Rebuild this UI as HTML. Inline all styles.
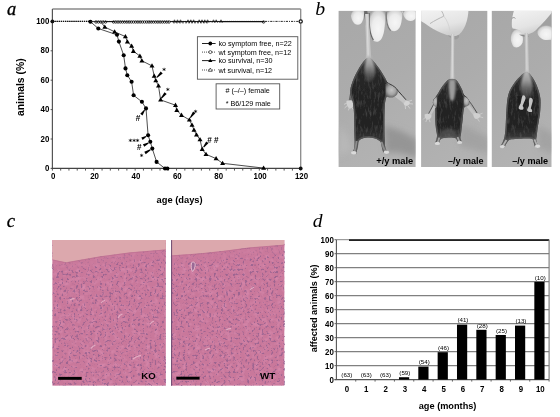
<!DOCTYPE html>
<html><head><meta charset="utf-8"><title>Figure</title>
<style>
html,body{margin:0;padding:0;background:#fff;}
body{width:560px;height:417px;overflow:hidden;}
svg{display:block;}
.tb{font-family:"Liberation Sans",Arial,sans-serif;font-weight:bold;fill:#000;}
.tr{font-family:"Liberation Sans",Arial,sans-serif;fill:#000;}
.dj{font-family:"DejaVu Sans","Liberation Sans",sans-serif;font-weight:bold;fill:#000;}
.pl{font-family:"Liberation Serif","Times New Roman",serif;font-style:italic;fill:#000;}
</style></head>
<body>
<svg width="560" height="417" viewBox="0 0 560 417">
<defs>
<clipPath id="cp0"><rect x="338.6" y="10.9" width="77.0" height="156.1"/></clipPath>
<linearGradient id="bg0" x1="0" y1="0" x2="0.3" y2="1"><stop offset="0" stop-color="#a8a8a8"/><stop offset="0.55" stop-color="#acacac"/><stop offset="1" stop-color="#b2b2b2"/></linearGradient>
<linearGradient id="mouse0" x1="0" y1="0" x2="0" y2="1"><stop offset="0" stop-color="#3c3c3c"/><stop offset="0.2" stop-color="#262626"/><stop offset="0.7" stop-color="#202020"/><stop offset="0.84" stop-color="#333"/><stop offset="0.93" stop-color="#5e5e5e"/><stop offset="1" stop-color="#8a8a8a"/></linearGradient>
<clipPath id="cp1"><rect x="421.1" y="10.9" width="66.2" height="156.1"/></clipPath>
<linearGradient id="bg1" x1="0" y1="0" x2="0.3" y2="1"><stop offset="0" stop-color="#a8a8a8"/><stop offset="0.55" stop-color="#acacac"/><stop offset="1" stop-color="#b2b2b2"/></linearGradient>
<linearGradient id="mouse1" x1="0" y1="0" x2="0" y2="1"><stop offset="0" stop-color="#3c3c3c"/><stop offset="0.2" stop-color="#262626"/><stop offset="0.7" stop-color="#202020"/><stop offset="0.84" stop-color="#333"/><stop offset="0.93" stop-color="#5e5e5e"/><stop offset="1" stop-color="#8a8a8a"/></linearGradient>
<clipPath id="cp2"><rect x="491.8" y="10.9" width="59.7" height="156.1"/></clipPath>
<linearGradient id="bg2" x1="0" y1="0" x2="0.3" y2="1"><stop offset="0" stop-color="#a8a8a8"/><stop offset="0.55" stop-color="#acacac"/><stop offset="1" stop-color="#b2b2b2"/></linearGradient>
<linearGradient id="mouse2" x1="0" y1="0" x2="0" y2="1"><stop offset="0" stop-color="#3c3c3c"/><stop offset="0.2" stop-color="#262626"/><stop offset="0.7" stop-color="#202020"/><stop offset="0.84" stop-color="#333"/><stop offset="0.93" stop-color="#5e5e5e"/><stop offset="1" stop-color="#8a8a8a"/></linearGradient>
<filter id="soft" x="-5%" y="-5%" width="110%" height="110%"><feGaussianBlur stdDeviation="0.45"/></filter>
<filter id="blur05" x="-30%" y="-30%" width="160%" height="160%"><feGaussianBlur stdDeviation="0.7"/></filter>
<filter id="fur" x="0" y="0" width="1" height="1" color-interpolation-filters="sRGB">
<feTurbulence type="fractalNoise" baseFrequency="0.5 0.12" numOctaves="3" seed="11" result="n"/>
<feColorMatrix in="n" type="matrix" values="0 0 0 0 0.38  0 0 0 0 0.38  0 0 0 0 0.38  1.3 0 0 0 -0.62" result="c"/>
<feGaussianBlur in="c" stdDeviation="0.4" result="cb"/>
<feComposite in="cb" in2="SourceAlpha" operator="in"/>
</filter>
<filter id="blur1" x="-30%" y="-30%" width="160%" height="160%"><feGaussianBlur stdDeviation="1.2"/></filter>
<filter id="blur2" x="-30%" y="-30%" width="160%" height="160%"><feGaussianBlur stdDeviation="3"/></filter>
<radialGradient id="fing" cx="0.58" cy="0.62" r="0.62"><stop offset="0" stop-color="#f6f6f6"/><stop offset="0.55" stop-color="#ececec"/><stop offset="0.85" stop-color="#d2d2d2"/><stop offset="1" stop-color="#a4a4a4"/></radialGradient>
<linearGradient id="vlight" x1="0" y1="0" x2="0" y2="1"><stop offset="0" stop-color="#bcbcbc"/><stop offset="0.35" stop-color="#9a9a9a"/><stop offset="1" stop-color="#4a4a4a" stop-opacity="0.5"/></linearGradient>
<radialGradient id="thigh" cx="0.5" cy="0.45" r="0.6"><stop offset="0" stop-color="#c4c4c4"/><stop offset="0.55" stop-color="#a4a4a4"/><stop offset="1" stop-color="#5a5a5a"/></radialGradient>
<linearGradient id="glove" x1="0" y1="0" x2="0.4" y2="1"><stop offset="0" stop-color="#f4f4f4"/><stop offset="0.7" stop-color="#e4e4e4"/><stop offset="1" stop-color="#cfcfcf"/></linearGradient>
<filter id="lt0" x="0" y="0" width="1" height="1" color-interpolation-filters="sRGB">
<feTurbulence type="fractalNoise" baseFrequency="0.22" numOctaves="2" seed="5" result="n"/>
<feColorMatrix in="n" type="matrix" values="0 0 0 0 0.86  0 0 0 0 0.56  0 0 0 0 0.70  1.6 0 0 0 -0.72"/>
</filter>
<filter id="spk0" x="0" y="0" width="1" height="1" color-interpolation-filters="sRGB">
<feTurbulence type="fractalNoise" baseFrequency="0.42" numOctaves="2" seed="3" result="n"/>
<feColorMatrix in="n" type="matrix" values="0 0 0 0 0.50  0 0 0 0 0.34  0 0 0 0 0.54  7 0 0 0 -4.0" result="c"/>
<feGaussianBlur in="c" stdDeviation="0.65"/>
</filter>
<filter id="lt1" x="0" y="0" width="1" height="1" color-interpolation-filters="sRGB">
<feTurbulence type="fractalNoise" baseFrequency="0.22" numOctaves="2" seed="8" result="n"/>
<feColorMatrix in="n" type="matrix" values="0 0 0 0 0.86  0 0 0 0 0.56  0 0 0 0 0.70  1.6 0 0 0 -0.72"/>
</filter>
<filter id="spk1" x="0" y="0" width="1" height="1" color-interpolation-filters="sRGB">
<feTurbulence type="fractalNoise" baseFrequency="0.42" numOctaves="2" seed="10" result="n"/>
<feColorMatrix in="n" type="matrix" values="0 0 0 0 0.50  0 0 0 0 0.34  0 0 0 0 0.54  7 0 0 0 -4.0" result="c"/>
<feGaussianBlur in="c" stdDeviation="0.65"/>
</filter>
</defs>
<rect width="560" height="417" fill="#fff"/>
<text x="6.9" y="15.4" class="pl" font-size="18.4" stroke="#000" stroke-width="0.35">a</text>
<text x="315.2" y="14.7" class="pl" font-size="19.8">b</text>
<text x="6.8" y="227.1" class="pl" font-size="18.8" stroke="#000" stroke-width="0.3">c</text>
<text x="312.7" y="227.4" class="pl" font-size="19.6">d</text>
<line x1="52.4" y1="9.0" x2="300.7" y2="9.0" stroke="#505050" stroke-width="1.1"/>
<line x1="300.7" y1="9.0" x2="300.7" y2="168.4" stroke="#8a8a8a" stroke-width="1.3"/>
<line x1="52.4" y1="9.1" x2="52.4" y2="169.0" stroke="#555" stroke-width="1.2"/>
<line x1="51.8" y1="168.4" x2="300.7" y2="168.4" stroke="#444" stroke-width="1.2"/>
<line x1="52.40" y1="168.4" x2="52.40" y2="170.6" stroke="#444" stroke-width="0.9"/>
<line x1="60.68" y1="168.4" x2="60.68" y2="170.6" stroke="#444" stroke-width="0.9"/>
<line x1="68.95" y1="168.4" x2="68.95" y2="170.6" stroke="#444" stroke-width="0.9"/>
<line x1="77.23" y1="168.4" x2="77.23" y2="170.6" stroke="#444" stroke-width="0.9"/>
<line x1="85.51" y1="168.4" x2="85.51" y2="170.6" stroke="#444" stroke-width="0.9"/>
<line x1="93.78" y1="168.4" x2="93.78" y2="170.6" stroke="#444" stroke-width="0.9"/>
<line x1="102.06" y1="168.4" x2="102.06" y2="170.6" stroke="#444" stroke-width="0.9"/>
<line x1="110.34" y1="168.4" x2="110.34" y2="170.6" stroke="#444" stroke-width="0.9"/>
<line x1="118.61" y1="168.4" x2="118.61" y2="170.6" stroke="#444" stroke-width="0.9"/>
<line x1="126.89" y1="168.4" x2="126.89" y2="170.6" stroke="#444" stroke-width="0.9"/>
<line x1="135.17" y1="168.4" x2="135.17" y2="170.6" stroke="#444" stroke-width="0.9"/>
<line x1="143.44" y1="168.4" x2="143.44" y2="170.6" stroke="#444" stroke-width="0.9"/>
<line x1="151.72" y1="168.4" x2="151.72" y2="170.6" stroke="#444" stroke-width="0.9"/>
<line x1="160.00" y1="168.4" x2="160.00" y2="170.6" stroke="#444" stroke-width="0.9"/>
<line x1="168.27" y1="168.4" x2="168.27" y2="170.6" stroke="#444" stroke-width="0.9"/>
<line x1="176.55" y1="168.4" x2="176.55" y2="170.6" stroke="#444" stroke-width="0.9"/>
<line x1="184.83" y1="168.4" x2="184.83" y2="170.6" stroke="#444" stroke-width="0.9"/>
<line x1="193.10" y1="168.4" x2="193.10" y2="170.6" stroke="#444" stroke-width="0.9"/>
<line x1="201.38" y1="168.4" x2="201.38" y2="170.6" stroke="#444" stroke-width="0.9"/>
<line x1="209.66" y1="168.4" x2="209.66" y2="170.6" stroke="#444" stroke-width="0.9"/>
<line x1="217.93" y1="168.4" x2="217.93" y2="170.6" stroke="#444" stroke-width="0.9"/>
<line x1="226.21" y1="168.4" x2="226.21" y2="170.6" stroke="#444" stroke-width="0.9"/>
<line x1="234.49" y1="168.4" x2="234.49" y2="170.6" stroke="#444" stroke-width="0.9"/>
<line x1="242.76" y1="168.4" x2="242.76" y2="170.6" stroke="#444" stroke-width="0.9"/>
<line x1="251.04" y1="168.4" x2="251.04" y2="170.6" stroke="#444" stroke-width="0.9"/>
<line x1="259.32" y1="168.4" x2="259.32" y2="170.6" stroke="#444" stroke-width="0.9"/>
<line x1="267.59" y1="168.4" x2="267.59" y2="170.6" stroke="#444" stroke-width="0.9"/>
<line x1="275.87" y1="168.4" x2="275.87" y2="170.6" stroke="#444" stroke-width="0.9"/>
<line x1="284.15" y1="168.4" x2="284.15" y2="170.6" stroke="#444" stroke-width="0.9"/>
<line x1="292.42" y1="168.4" x2="292.42" y2="170.6" stroke="#444" stroke-width="0.9"/>
<line x1="300.70" y1="168.4" x2="300.70" y2="170.6" stroke="#444" stroke-width="0.9"/>
<line x1="50.6" y1="168.40" x2="52.4" y2="168.40" stroke="#444" stroke-width="0.9"/>
<text transform="translate(49.4,171.00) scale(0.92,1)" class="tb" font-size="8.6" text-anchor="end">0</text>
<line x1="50.6" y1="139.00" x2="52.4" y2="139.00" stroke="#444" stroke-width="0.9"/>
<text transform="translate(49.4,141.60) scale(0.92,1)" class="tb" font-size="8.6" text-anchor="end">20</text>
<line x1="50.6" y1="109.60" x2="52.4" y2="109.60" stroke="#444" stroke-width="0.9"/>
<text transform="translate(49.4,112.20) scale(0.92,1)" class="tb" font-size="8.6" text-anchor="end">40</text>
<line x1="50.6" y1="80.20" x2="52.4" y2="80.20" stroke="#444" stroke-width="0.9"/>
<text transform="translate(49.4,82.80) scale(0.92,1)" class="tb" font-size="8.6" text-anchor="end">60</text>
<line x1="50.6" y1="50.80" x2="52.4" y2="50.80" stroke="#444" stroke-width="0.9"/>
<text transform="translate(49.4,53.40) scale(0.92,1)" class="tb" font-size="8.6" text-anchor="end">80</text>
<line x1="50.6" y1="21.40" x2="52.4" y2="21.40" stroke="#444" stroke-width="0.9"/>
<text transform="translate(49.4,24.00) scale(0.92,1)" class="tb" font-size="8.6" text-anchor="end">100</text>
<text transform="translate(53.20,179.0) scale(0.92,1)" class="tb" font-size="8.6" text-anchor="middle">0</text>
<text transform="translate(94.58,179.0) scale(0.92,1)" class="tb" font-size="8.6" text-anchor="middle">20</text>
<text transform="translate(135.97,179.0) scale(0.92,1)" class="tb" font-size="8.6" text-anchor="middle">40</text>
<text transform="translate(177.35,179.0) scale(0.92,1)" class="tb" font-size="8.6" text-anchor="middle">60</text>
<text transform="translate(218.73,179.0) scale(0.92,1)" class="tb" font-size="8.6" text-anchor="middle">80</text>
<text transform="translate(260.12,179.0) scale(0.92,1)" class="tb" font-size="8.6" text-anchor="middle">100</text>
<text transform="translate(301.50,179.0) scale(0.92,1)" class="tb" font-size="8.6" text-anchor="middle">120</text>
<text transform="translate(23.8,87.2) rotate(-90)" class="tb" font-size="10.4" text-anchor="middle">animals (%)</text>
<text x="179.6" y="203.4" class="tb" font-size="9.3" text-anchor="middle">age (days)</text>
<line x1="52.4" y1="21.4" x2="264" y2="21.4" stroke="#111" stroke-width="0.9" stroke-dasharray="1.2 0.9"/>
<line x1="265" y1="21.4" x2="300.7" y2="21.4" stroke="#111" stroke-width="0.9" stroke-dasharray="2.2 1 1 1"/>
<line x1="52.4" y1="21.4" x2="90" y2="21.4" stroke="#111" stroke-width="1.3" stroke-dasharray="1.3 0.8"/>
<line x1="105" y1="21.599999999999998" x2="114" y2="21.599999999999998" stroke="#111" stroke-width="1.1"/>
<line x1="220" y1="21.599999999999998" x2="264" y2="21.599999999999998" stroke="#111" stroke-width="1.1"/>
<circle cx="96.00" cy="22.0" r="1.25" fill="none" stroke="#111" stroke-width="0.75"/>
<circle cx="98.38" cy="22.0" r="1.25" fill="none" stroke="#111" stroke-width="0.75"/>
<circle cx="100.75" cy="22.0" r="1.25" fill="none" stroke="#111" stroke-width="0.75"/>
<circle cx="103.12" cy="22.0" r="1.25" fill="none" stroke="#111" stroke-width="0.75"/>
<circle cx="105.50" cy="22.0" r="1.25" fill="none" stroke="#111" stroke-width="0.75"/>
<circle cx="113.60" cy="22.0" r="1.25" fill="none" stroke="#111" stroke-width="0.75"/>
<circle cx="115.81" cy="22.0" r="1.25" fill="none" stroke="#111" stroke-width="0.75"/>
<circle cx="118.02" cy="22.0" r="1.25" fill="none" stroke="#111" stroke-width="0.75"/>
<circle cx="120.23" cy="22.0" r="1.25" fill="none" stroke="#111" stroke-width="0.75"/>
<circle cx="122.44" cy="22.0" r="1.25" fill="none" stroke="#111" stroke-width="0.75"/>
<circle cx="124.65" cy="22.0" r="1.25" fill="none" stroke="#111" stroke-width="0.75"/>
<circle cx="126.86" cy="22.0" r="1.25" fill="none" stroke="#111" stroke-width="0.75"/>
<circle cx="129.07" cy="22.0" r="1.25" fill="none" stroke="#111" stroke-width="0.75"/>
<circle cx="131.28" cy="22.0" r="1.25" fill="none" stroke="#111" stroke-width="0.75"/>
<circle cx="133.49" cy="22.0" r="1.25" fill="none" stroke="#111" stroke-width="0.75"/>
<circle cx="135.70" cy="22.0" r="1.25" fill="none" stroke="#111" stroke-width="0.75"/>
<circle cx="137.90" cy="22.0" r="1.25" fill="none" stroke="#111" stroke-width="0.75"/>
<circle cx="140.12" cy="22.0" r="1.25" fill="none" stroke="#111" stroke-width="0.75"/>
<circle cx="142.34" cy="22.0" r="1.25" fill="none" stroke="#111" stroke-width="0.75"/>
<circle cx="144.56" cy="22.0" r="1.25" fill="none" stroke="#111" stroke-width="0.75"/>
<circle cx="146.79" cy="22.0" r="1.25" fill="none" stroke="#111" stroke-width="0.75"/>
<circle cx="149.01" cy="22.0" r="1.25" fill="none" stroke="#111" stroke-width="0.75"/>
<circle cx="151.23" cy="22.0" r="1.25" fill="none" stroke="#111" stroke-width="0.75"/>
<circle cx="153.45" cy="22.0" r="1.25" fill="none" stroke="#111" stroke-width="0.75"/>
<circle cx="155.67" cy="22.0" r="1.25" fill="none" stroke="#111" stroke-width="0.75"/>
<circle cx="157.89" cy="22.0" r="1.25" fill="none" stroke="#111" stroke-width="0.75"/>
<circle cx="160.11" cy="22.0" r="1.25" fill="none" stroke="#111" stroke-width="0.75"/>
<circle cx="162.34" cy="22.0" r="1.25" fill="none" stroke="#111" stroke-width="0.75"/>
<circle cx="164.56" cy="22.0" r="1.25" fill="none" stroke="#111" stroke-width="0.75"/>
<circle cx="166.78" cy="22.0" r="1.25" fill="none" stroke="#111" stroke-width="0.75"/>
<circle cx="169.00" cy="22.0" r="1.25" fill="none" stroke="#111" stroke-width="0.75"/>
<circle cx="263.60" cy="22.0" r="1.25" fill="none" stroke="#111" stroke-width="0.75"/>
<line x1="170" y1="21.599999999999998" x2="222" y2="21.599999999999998" stroke="#111" stroke-width="1.0"/>
<path d="M173.10,22.70 L174.50,19.80 L175.90,22.70" fill="none" stroke="#111" stroke-width="0.7"/>
<path d="M176.10,22.70 L177.50,19.80 L178.90,22.70" fill="none" stroke="#111" stroke-width="0.7"/>
<path d="M179.10,22.70 L180.50,19.80 L181.90,22.70" fill="none" stroke="#111" stroke-width="0.7"/>
<path d="M186.60,22.70 L188.00,19.80 L189.40,22.70" fill="none" stroke="#111" stroke-width="0.7"/>
<path d="M189.40,22.70 L190.80,19.80 L192.20,22.70" fill="none" stroke="#111" stroke-width="0.7"/>
<path d="M192.20,22.70 L193.60,19.80 L195.00,22.70" fill="none" stroke="#111" stroke-width="0.7"/>
<path d="M197.80,22.70 L199.20,19.80 L200.60,22.70" fill="none" stroke="#111" stroke-width="0.7"/>
<path d="M200.60,22.70 L202.00,19.80 L203.40,22.70" fill="none" stroke="#111" stroke-width="0.7"/>
<path d="M203.40,22.70 L204.80,19.80 L206.20,22.70" fill="none" stroke="#111" stroke-width="0.7"/>
<path d="M206.20,22.70 L207.60,19.80 L209.00,22.70" fill="none" stroke="#111" stroke-width="0.7"/>
<path d="M212.10,22.70 L213.50,19.80 L214.90,22.70" fill="none" stroke="#111" stroke-width="0.7"/>
<path d="M214.80,22.70 L216.20,19.80 L217.60,22.70" fill="none" stroke="#111" stroke-width="0.7"/>
<path d="M219.60,22.70 L221.00,19.80 L222.40,22.70" fill="none" stroke="#111" stroke-width="0.7"/>
<line x1="173" y1="22.799999999999997" x2="209" y2="22.799999999999997" stroke="#111" stroke-width="0.7" stroke-dasharray="2 1"/>
<circle cx="300.7" cy="21.4" r="1.6" fill="#fff" stroke="#111" stroke-width="1.2"/>
<circle cx="52.4" cy="21.4" r="1.9" fill="#111"/>
<circle cx="300.7" cy="168.4" r="1.9" fill="#111"/>
<polyline fill="none" stroke="#222" stroke-width="0.8" points="90.4,21.7 98.3,28.5 117.0,34.8 118.9,41.6 123.7,55.3 125.5,68.4 127.3,75.2 131.6,81.7 133.6,95.3 141.9,101.8 146.0,108.4 148.1,135.3 150.3,141.8 152.3,148.6 156.6,161.9 165.0,168.5 167.4,168.5"/>
<circle cx="90.4" cy="21.7" r="2.05" fill="#000"/>
<circle cx="98.3" cy="28.5" r="2.05" fill="#000"/>
<circle cx="117.0" cy="34.8" r="2.05" fill="#000"/>
<circle cx="118.9" cy="41.6" r="2.05" fill="#000"/>
<circle cx="123.7" cy="55.3" r="2.05" fill="#000"/>
<circle cx="125.5" cy="68.4" r="2.05" fill="#000"/>
<circle cx="127.3" cy="75.2" r="2.05" fill="#000"/>
<circle cx="131.6" cy="81.7" r="2.05" fill="#000"/>
<circle cx="133.6" cy="95.3" r="2.05" fill="#000"/>
<circle cx="141.9" cy="101.8" r="2.05" fill="#000"/>
<circle cx="146.0" cy="108.4" r="2.05" fill="#000"/>
<circle cx="148.1" cy="135.3" r="2.05" fill="#000"/>
<circle cx="150.3" cy="141.8" r="2.05" fill="#000"/>
<circle cx="152.3" cy="148.6" r="2.05" fill="#000"/>
<circle cx="156.6" cy="161.9" r="2.05" fill="#000"/>
<circle cx="165.0" cy="168.5" r="2.05" fill="#000"/>
<circle cx="167.4" cy="168.5" r="2.05" fill="#000"/>
<polyline fill="none" stroke="#222" stroke-width="0.8" points="90.4,21.6 100.5,21.6 104.8,27.0 114.6,31.8 125.4,36.6 127.4,41.8 131.6,46.0 133.4,51.2 139.9,56.0 141.9,60.8 152.0,65.9 154.2,76.0 155.8,80.5 158.5,85.9 160.6,99.9 175.5,105.2 176.8,110.2 181.5,115.2 189.4,119.9 192.0,125.0 194.0,130.0 196.5,134.8 200.0,139.6 202.2,149.2 206.0,154.3 216.1,158.6 222.6,163.3 263.6,168.1"/>
<path d="M104.80,24.40 L107.30,28.70 L102.30,28.70 Z" fill="#000"/>
<path d="M114.60,29.20 L117.10,33.50 L112.10,33.50 Z" fill="#000"/>
<path d="M125.40,34.00 L127.90,38.30 L122.90,38.30 Z" fill="#000"/>
<path d="M127.40,39.20 L129.90,43.50 L124.90,43.50 Z" fill="#000"/>
<path d="M131.60,43.40 L134.10,47.70 L129.10,47.70 Z" fill="#000"/>
<path d="M133.40,48.60 L135.90,52.90 L130.90,52.90 Z" fill="#000"/>
<path d="M139.90,53.40 L142.40,57.70 L137.40,57.70 Z" fill="#000"/>
<path d="M141.90,58.20 L144.40,62.50 L139.40,62.50 Z" fill="#000"/>
<path d="M152.00,63.30 L154.50,67.60 L149.50,67.60 Z" fill="#000"/>
<path d="M154.20,73.40 L156.70,77.70 L151.70,77.70 Z" fill="#000"/>
<path d="M155.80,77.90 L158.30,82.20 L153.30,82.20 Z" fill="#000"/>
<path d="M158.50,83.30 L161.00,87.60 L156.00,87.60 Z" fill="#000"/>
<path d="M160.60,97.30 L163.10,101.60 L158.10,101.60 Z" fill="#000"/>
<path d="M175.50,102.60 L178.00,106.90 L173.00,106.90 Z" fill="#000"/>
<path d="M176.80,107.60 L179.30,111.90 L174.30,111.90 Z" fill="#000"/>
<path d="M181.50,112.60 L184.00,116.90 L179.00,116.90 Z" fill="#000"/>
<path d="M189.40,117.30 L191.90,121.60 L186.90,121.60 Z" fill="#000"/>
<path d="M192.00,122.40 L194.50,126.70 L189.50,126.70 Z" fill="#000"/>
<path d="M194.00,127.40 L196.50,131.70 L191.50,131.70 Z" fill="#000"/>
<path d="M196.50,132.20 L199.00,136.50 L194.00,136.50 Z" fill="#000"/>
<path d="M200.00,137.00 L202.50,141.30 L197.50,141.30 Z" fill="#000"/>
<path d="M202.20,146.60 L204.70,150.90 L199.70,150.90 Z" fill="#000"/>
<path d="M206.00,151.70 L208.50,156.00 L203.50,156.00 Z" fill="#000"/>
<path d="M216.10,156.00 L218.60,160.30 L213.60,160.30 Z" fill="#000"/>
<path d="M222.60,160.70 L225.10,165.00 L220.10,165.00 Z" fill="#000"/>
<path d="M263.60,165.50 L266.10,169.80 L261.10,169.80 Z" fill="#000"/>
<text x="130.3" y="143.70" font-size="7" class="dj" text-anchor="middle">*</text>
<text x="134.0" y="143.70" font-size="7" class="dj" text-anchor="middle">*</text>
<text x="137.7" y="143.70" font-size="7" class="dj" text-anchor="middle">*</text>
<text x="141.6" y="158.50" font-size="7" class="dj" text-anchor="middle">*</text>
<text x="164.2" y="72.50" font-size="7" class="dj" text-anchor="middle">*</text>
<text x="167.9" y="92.90" font-size="7" class="dj" text-anchor="middle">*</text>
<text x="195.6" y="114.50" font-size="7" class="dj" text-anchor="middle">*</text>
<polygon fill="#000" points="144.19,109.71 140.25,113.80 142.55,115.40 145.01,110.29"/>
<text x="138.0" y="121.2" font-size="8.2" class="tb" text-anchor="middle">#</text>
<polygon fill="#000" points="145.95,135.97 141.31,137.58 142.69,140.02 146.45,136.83"/>
<polygon fill="#000" points="148.16,142.56 142.93,144.37 144.27,146.83 148.64,143.44"/>
<text x="139.2" y="150.1" font-size="8.2" class="tb" text-anchor="middle">#</text>
<polygon fill="#000" points="150.15,149.37 144.29,151.80 145.71,154.20 150.65,150.23"/>
<polygon fill="#000" points="157.26,77.65 162.70,73.38 160.70,71.42 156.54,76.95"/>
<polygon fill="#000" points="161.58,98.63 166.66,94.11 164.54,92.29 160.82,97.97"/>
<polygon fill="#000" points="190.71,118.09 195.33,113.22 193.07,111.58 189.89,117.51"/>
<polygon fill="#000" points="203.99,147.41 208.40,143.27 206.20,141.53 203.21,146.79"/>
<text x="212.9" y="142.6" font-size="8.2" class="tb" text-anchor="middle"># #</text>
<rect x="197.4" y="36.7" width="100.4" height="42.5" fill="#fff" stroke="#555" stroke-width="0.9"/>
<line x1="202" y1="43.5" x2="215.6" y2="43.5" stroke="#222" stroke-width="1"/>
<circle cx="210.3" cy="43.5" r="1.9" fill="#000"/>
<text x="218.4" y="46.0" class="tr" font-size="7.2">ko symptom free, n=22</text>
<line x1="202" y1="52.1" x2="215.6" y2="52.1" stroke="#222" stroke-width="0.8" stroke-dasharray="1 1"/>
<circle cx="210.3" cy="52.1" r="1.5" fill="#fff" stroke="#222" stroke-width="0.7"/>
<text x="218.4" y="54.6" class="tr" font-size="7.2">wt symptom free, n=12</text>
<line x1="202" y1="60.6" x2="215.6" y2="60.6" stroke="#222" stroke-width="1"/>
<path d="M210.3,58.4 L212.4,62.0 L208.2,62.0 Z" fill="#000"/>
<text x="218.4" y="63.1" class="tr" font-size="7.2">ko survival, n=30</text>
<line x1="202" y1="70.0" x2="215.6" y2="70.0" stroke="#222" stroke-width="0.8" stroke-dasharray="1 1"/>
<path d="M210.3,68.0 L212.2,71.3 L208.4,71.3 Z" fill="#fff" stroke="#222" stroke-width="0.7"/>
<text x="218.4" y="72.5" class="tr" font-size="7.2">wt survival, n=12</text>
<rect x="216.1" y="83.8" width="63.6" height="25.2" fill="#fff" stroke="#555" stroke-width="0.9"/>
<text x="247.6" y="93.1" class="tr" font-size="7.2" text-anchor="middle"># (–/–) female</text>
<text x="248.3" y="105.9" class="tr" font-size="7.2" text-anchor="middle">* B6/129 male</text>
<rect x="338.6" y="10.9" width="77.0" height="156.1" fill="url(#bg0)"/>
<rect x="421.1" y="10.9" width="66.2" height="156.1" fill="url(#bg1)"/>
<rect x="491.8" y="10.9" width="59.7" height="156.1" fill="url(#bg2)"/>
<g clip-path="url(#cp0)"><g filter="url(#soft)">
<path d="M384,126 C396,128 408,134 417,140 L417,158 C405,153 395,151 386,153 Z" fill="#959595" filter="url(#blur2)"/>
<path d="M340,126 C345,132 350,140 352,150 L338,156 Z" fill="#b8b8b8" filter="url(#blur2)"/>
<rect x="352.5" y="8" width="66" height="5" fill="#dcdcdc"/>
<path d="M363,10 C364,14 365,20 366,26 L368.5,26 C368.5,20 368,14 367.5,10 Z" fill="#6a6a6a" filter="url(#blur05)"/>
<path d="M350.5,8 C350,17 352.5,24.8 357.8,24.8 C362.6,24.8 364.4,18 364.2,8 Z" fill="url(#fing)"/>
<path d="M368,8 C367.5,26 369.5,41.8 376.5,41.8 C383.5,41.8 385.5,30 385.5,8 Z" fill="url(#fing)"/>
<path d="M385,8 C385,22 387.5,31.2 394,31.2 C400.5,31.2 402.5,22 402.5,8 Z" fill="url(#fing)"/>
<path d="M402.5,8 C402.5,15 405,21 410.5,21 C416,21 418,15 418,8 Z" fill="url(#fing)"/>
<path d="M369.2,13 C368.8,24 369.8,35 373.4,40" fill="none" stroke="#6a6a6a" stroke-width="1.3" filter="url(#blur05)"/>
<path d="M386.2,12 C386,21 387.4,27.6 390.6,30.6" fill="none" stroke="#7a7a7a" stroke-width="1.2" filter="url(#blur05)"/>
<path d="M365,14 C365.5,30 366.5,46 366.4,62 L371.2,62 C370.5,46 369.5,30 368.8,14 Z" fill="#c6c6c6"/>
<path d="M366.2,14 C366.8,30 367.5,46 367.6,60 L368.8,60 C368.7,46 368.2,30 367.6,14 Z" fill="#dadada"/>
<path d="M351.6,88 C350,93 349.2,97 348.6,101.6 L352.6,102.4 C353.4,98 354.4,94 355.6,90 Z" fill="#6a6a6a"/>
<path d="M346.4,101 C348.6,99.8 352,100 354,101.6 C354.6,104.4 353.2,107.6 350.6,108.6 C348.4,108.6 346.6,106.4 346.4,101 Z" fill="#d0d0d0"/>
<path d="M347,103 L344,104.4 M347.4,105.4 L344.6,108 M349.4,107.6 L348.4,110.4 M352,107.6 L353.6,110" stroke="#cfcfcf" stroke-width="0.9"/>
<path d="M403.5,100.6 C406,100 408.6,100.8 410,102.6 C409.6,105 407.4,106.4 405,105.8 C403.6,104.6 403.2,102.6 403.5,100.6 Z" fill="#d4d4d4"/>
<path d="M408,101.6 L412,100.2 M409,103.6 L413,104 M407.6,105.4 L410,108.6 M405.2,105.6 L405.6,109" stroke="#d0d0d0" stroke-width="0.9"/>
<path d="M366.60,58.50 C367.87,57.92 369.40,57.75 370.80,58.50 C372.20,59.25 373.53,61.25 375.00,63.00 C376.47,64.75 378.17,66.92 379.60,69.00 C381.03,71.08 382.43,73.50 383.60,75.50 C384.77,77.50 385.87,79.08 386.60,81.00 C387.33,82.92 387.87,84.83 388.00,87.00 C388.13,89.17 387.83,91.75 387.40,94.00 C386.97,96.25 385.87,97.83 385.40,100.50 C384.93,103.17 384.77,105.92 384.60,110.00 C384.43,114.08 384.40,120.50 384.40,125.00 C384.40,129.50 384.50,134.25 384.60,137.00 C384.70,139.75 384.93,140.08 385.00,141.50 C385.07,142.92 384.83,144.17 385.00,145.50 C385.17,146.83 385.50,148.45 386.00,149.50 C386.50,150.55 388.00,151.18 388.00,151.80 C388.00,152.42 386.75,153.10 386.00,153.20 C385.25,153.30 384.17,153.27 383.50,152.40 C382.83,151.53 382.48,149.73 382.00,148.00 C381.52,146.27 381.77,143.57 380.60,142.00 C379.43,140.43 376.93,139.33 375.00,138.60 C373.07,137.87 371.08,137.62 369.00,137.60 C366.92,137.58 364.20,137.93 362.50,138.50 C360.80,139.07 359.55,139.75 358.80,141.00 C358.05,142.25 358.30,144.42 358.00,146.00 C357.70,147.58 357.30,149.20 357.00,150.50 C356.70,151.80 356.97,153.35 356.20,153.80 C355.43,154.25 352.77,154.00 352.40,153.20 C352.03,152.40 353.63,150.37 354.00,149.00 C354.37,147.63 354.50,146.50 354.60,145.00 C354.70,143.50 354.63,141.83 354.60,140.00 C354.57,138.17 354.47,137.33 354.40,134.00 C354.33,130.67 354.30,124.00 354.20,120.00 C354.10,116.00 354.07,113.17 353.80,110.00 C353.53,106.83 353.17,103.67 352.60,101.00 C352.03,98.33 350.73,96.17 350.40,94.00 C350.07,91.83 350.23,90.08 350.60,88.00 C350.97,85.92 351.77,83.75 352.60,81.50 C353.43,79.25 354.47,76.83 355.60,74.50 C356.73,72.17 358.13,69.58 359.40,67.50 C360.67,65.42 362.00,63.50 363.20,62.00 C364.40,60.50 365.33,59.08 366.60,58.50 Z" fill="url(#mouse0)"/>
<path d="M366.60,58.50 C367.87,57.92 369.40,57.75 370.80,58.50 C372.20,59.25 373.53,61.25 375.00,63.00 C376.47,64.75 378.17,66.92 379.60,69.00 C381.03,71.08 382.43,73.50 383.60,75.50 C384.77,77.50 385.87,79.08 386.60,81.00 C387.33,82.92 387.87,84.83 388.00,87.00 C388.13,89.17 387.83,91.75 387.40,94.00 C386.97,96.25 385.87,97.83 385.40,100.50 C384.93,103.17 384.77,105.92 384.60,110.00 C384.43,114.08 384.40,120.50 384.40,125.00 C384.40,129.50 384.50,134.25 384.60,137.00 C384.70,139.75 384.93,140.08 385.00,141.50 C385.07,142.92 384.83,144.17 385.00,145.50 C385.17,146.83 385.50,148.45 386.00,149.50 C386.50,150.55 388.00,151.18 388.00,151.80 C388.00,152.42 386.75,153.10 386.00,153.20 C385.25,153.30 384.17,153.27 383.50,152.40 C382.83,151.53 382.48,149.73 382.00,148.00 C381.52,146.27 381.77,143.57 380.60,142.00 C379.43,140.43 376.93,139.33 375.00,138.60 C373.07,137.87 371.08,137.62 369.00,137.60 C366.92,137.58 364.20,137.93 362.50,138.50 C360.80,139.07 359.55,139.75 358.80,141.00 C358.05,142.25 358.30,144.42 358.00,146.00 C357.70,147.58 357.30,149.20 357.00,150.50 C356.70,151.80 356.97,153.35 356.20,153.80 C355.43,154.25 352.77,154.00 352.40,153.20 C352.03,152.40 353.63,150.37 354.00,149.00 C354.37,147.63 354.50,146.50 354.60,145.00 C354.70,143.50 354.63,141.83 354.60,140.00 C354.57,138.17 354.47,137.33 354.40,134.00 C354.33,130.67 354.30,124.00 354.20,120.00 C354.10,116.00 354.07,113.17 353.80,110.00 C353.53,106.83 353.17,103.67 352.60,101.00 C352.03,98.33 350.73,96.17 350.40,94.00 C350.07,91.83 350.23,90.08 350.60,88.00 C350.97,85.92 351.77,83.75 352.60,81.50 C353.43,79.25 354.47,76.83 355.60,74.50 C356.73,72.17 358.13,69.58 359.40,67.50 C360.67,65.42 362.00,63.50 363.20,62.00 C364.40,60.50 365.33,59.08 366.60,58.50 Z" fill="#7a7a7a" filter="url(#fur)"/>
<clipPath id="mc0"><path d="M366.60,58.50 C367.87,57.92 369.40,57.75 370.80,58.50 C372.20,59.25 373.53,61.25 375.00,63.00 C376.47,64.75 378.17,66.92 379.60,69.00 C381.03,71.08 382.43,73.50 383.60,75.50 C384.77,77.50 385.87,79.08 386.60,81.00 C387.33,82.92 387.87,84.83 388.00,87.00 C388.13,89.17 387.83,91.75 387.40,94.00 C386.97,96.25 385.87,97.83 385.40,100.50 C384.93,103.17 384.77,105.92 384.60,110.00 C384.43,114.08 384.40,120.50 384.40,125.00 C384.40,129.50 384.50,134.25 384.60,137.00 C384.70,139.75 384.93,140.08 385.00,141.50 C385.07,142.92 384.83,144.17 385.00,145.50 C385.17,146.83 385.50,148.45 386.00,149.50 C386.50,150.55 388.00,151.18 388.00,151.80 C388.00,152.42 386.75,153.10 386.00,153.20 C385.25,153.30 384.17,153.27 383.50,152.40 C382.83,151.53 382.48,149.73 382.00,148.00 C381.52,146.27 381.77,143.57 380.60,142.00 C379.43,140.43 376.93,139.33 375.00,138.60 C373.07,137.87 371.08,137.62 369.00,137.60 C366.92,137.58 364.20,137.93 362.50,138.50 C360.80,139.07 359.55,139.75 358.80,141.00 C358.05,142.25 358.30,144.42 358.00,146.00 C357.70,147.58 357.30,149.20 357.00,150.50 C356.70,151.80 356.97,153.35 356.20,153.80 C355.43,154.25 352.77,154.00 352.40,153.20 C352.03,152.40 353.63,150.37 354.00,149.00 C354.37,147.63 354.50,146.50 354.60,145.00 C354.70,143.50 354.63,141.83 354.60,140.00 C354.57,138.17 354.47,137.33 354.40,134.00 C354.33,130.67 354.30,124.00 354.20,120.00 C354.10,116.00 354.07,113.17 353.80,110.00 C353.53,106.83 353.17,103.67 352.60,101.00 C352.03,98.33 350.73,96.17 350.40,94.00 C350.07,91.83 350.23,90.08 350.60,88.00 C350.97,85.92 351.77,83.75 352.60,81.50 C353.43,79.25 354.47,76.83 355.60,74.50 C356.73,72.17 358.13,69.58 359.40,67.50 C360.67,65.42 362.00,63.50 363.20,62.00 C364.40,60.50 365.33,59.08 366.60,58.50 Z"/></clipPath>
<path d="M366.60,58.50 C367.87,57.92 369.40,57.75 370.80,58.50 C372.20,59.25 373.53,61.25 375.00,63.00 C376.47,64.75 378.17,66.92 379.60,69.00 C381.03,71.08 382.43,73.50 383.60,75.50 C384.77,77.50 385.87,79.08 386.60,81.00 C387.33,82.92 387.87,84.83 388.00,87.00 C388.13,89.17 387.83,91.75 387.40,94.00 C386.97,96.25 385.87,97.83 385.40,100.50 C384.93,103.17 384.77,105.92 384.60,110.00 C384.43,114.08 384.40,120.50 384.40,125.00 C384.40,129.50 384.50,134.25 384.60,137.00 C384.70,139.75 384.93,140.08 385.00,141.50 C385.07,142.92 384.83,144.17 385.00,145.50 C385.17,146.83 385.50,148.45 386.00,149.50 C386.50,150.55 388.00,151.18 388.00,151.80 C388.00,152.42 386.75,153.10 386.00,153.20 C385.25,153.30 384.17,153.27 383.50,152.40 C382.83,151.53 382.48,149.73 382.00,148.00 C381.52,146.27 381.77,143.57 380.60,142.00 C379.43,140.43 376.93,139.33 375.00,138.60 C373.07,137.87 371.08,137.62 369.00,137.60 C366.92,137.58 364.20,137.93 362.50,138.50 C360.80,139.07 359.55,139.75 358.80,141.00 C358.05,142.25 358.30,144.42 358.00,146.00 C357.70,147.58 357.30,149.20 357.00,150.50 C356.70,151.80 356.97,153.35 356.20,153.80 C355.43,154.25 352.77,154.00 352.40,153.20 C352.03,152.40 353.63,150.37 354.00,149.00 C354.37,147.63 354.50,146.50 354.60,145.00 C354.70,143.50 354.63,141.83 354.60,140.00 C354.57,138.17 354.47,137.33 354.40,134.00 C354.33,130.67 354.30,124.00 354.20,120.00 C354.10,116.00 354.07,113.17 353.80,110.00 C353.53,106.83 353.17,103.67 352.60,101.00 C352.03,98.33 350.73,96.17 350.40,94.00 C350.07,91.83 350.23,90.08 350.60,88.00 C350.97,85.92 351.77,83.75 352.60,81.50 C353.43,79.25 354.47,76.83 355.60,74.50 C356.73,72.17 358.13,69.58 359.40,67.50 C360.67,65.42 362.00,63.50 363.20,62.00 C364.40,60.50 365.33,59.08 366.60,58.50 Z" fill="none" stroke="#5a5a5a" stroke-width="3" clip-path="url(#mc0)" opacity="0.75" filter="url(#blur05)"/>
<path d="M395.4,90.4 C399.4,93.4 403,96.8 406.2,100.4 L403.6,103.4 C400.2,100.4 397,98 394,96.2 Z" fill="#c4c4c4"/>
<path d="M385.4,84 C390,84 395,86.6 397.6,90.6 C398.4,93.6 396.4,96.6 392.6,97.4 C389.6,97.8 387,97 385.6,95.4 Z" fill="url(#thigh)"/>
<path d="M384,79.6 C386,81.6 388,83.2 390,84.2 C393.4,85.6 396.4,88 398.4,91.2 C401,94 403.6,97 406,99.8" fill="none" stroke="#2c2c2c" stroke-width="0.9"/>
<path d="M366.6,56 L371,56 C372.8,60 374.8,65 375.2,71 C375.2,77 372.8,81.6 369.6,82 C366.6,81.6 364.6,77 364.6,71 C364.8,65 365.6,60 366.6,56 Z" fill="url(#vlight)" filter="url(#blur1)"/>
<path d="M356.6,141 C356.2,145 355.4,149 354.2,152.4" fill="none" stroke="#8c8c8c" stroke-width="1.8" filter="url(#blur05)"/>
<path d="M381.6,142 C382.6,145.6 384,149 385.6,151.8" fill="none" stroke="#8c8c8c" stroke-width="1.8" filter="url(#blur05)"/>
<ellipse cx="353.8" cy="152.8" rx="2.8" ry="1.7" fill="#dadada"/>
<ellipse cx="386.4" cy="152.2" rx="2.8" ry="1.7" fill="#dadada"/>
</g></g>
<g clip-path="url(#cp1)"><g filter="url(#soft)">
<path d="M458,124 C468,126 478,132 489,138 L489,154 C478,151 468,148 460,147 Z" fill="#9c9c9c" opacity="0.7" filter="url(#blur2)"/>
<path d="M420,8 L468.5,8 C468.5,14 467.5,20 465.5,25 C463.5,30 460.5,34 456.5,36 C453,37 449,35.8 445.5,34.6 C440,32.6 435,30 430,27 C426.5,24.8 423.5,22.4 420,20.6 Z" fill="url(#glove)"/>
<path d="M441,10 C442.5,12.5 443.6,14.5 443.8,16.2 C439.5,18.2 434.5,20.6 430,23.6" fill="none" stroke="#b0b0b0" stroke-width="0.9"/>
<path d="M443.8,16.2 C447,20 449,25 450,31" fill="none" stroke="#d0d0d0" stroke-width="0.8"/>
<path d="M447,35 C450,37.5 453,39.5 456,39.5 C458.5,39 459.5,37 459,35 C456,36.5 452,36.5 447,35 Z" fill="#9c9c9c" filter="url(#blur05)"/>
<path d="M451,34 C451.2,48 450.8,62 450.3,80 L454.3,80 C454,62 454,48 454.4,34 Z" fill="#c6c6c6"/>
<path d="M452,34 C452.1,48 451.8,62 451.6,78 L452.8,78 C453,62 453.2,48 453.2,34 Z" fill="#d8d8d8"/>
<path d="M449.00,79.50 C450.67,78.92 453.42,78.92 455.00,79.50 C456.58,80.08 457.33,81.33 458.50,83.00 C459.67,84.67 461.08,87.50 462.00,89.50 C462.92,91.50 463.25,93.75 464.00,95.00 C464.75,96.25 465.67,96.00 466.50,97.00 C467.33,98.00 468.72,99.67 469.00,101.00 C469.28,102.33 468.87,104.08 468.20,105.00 C467.53,105.92 465.77,105.67 465.00,106.50 C464.23,107.33 464.00,107.75 463.60,110.00 C463.20,112.25 462.93,117.00 462.60,120.00 C462.27,123.00 461.87,125.67 461.60,128.00 C461.33,130.33 461.20,132.33 461.00,134.00 C460.80,135.67 460.30,136.75 460.40,138.00 C460.50,139.25 461.67,140.60 461.60,141.50 C461.53,142.40 460.67,143.22 460.00,143.40 C459.33,143.58 458.10,143.13 457.60,142.60 C457.10,142.07 457.33,140.93 457.00,140.20 C456.67,139.47 456.77,138.67 455.60,138.20 C454.43,137.73 451.97,137.43 450.00,137.40 C448.03,137.37 445.33,137.70 443.80,138.00 C442.27,138.30 441.50,138.70 440.80,139.20 C440.10,139.70 439.90,140.27 439.60,141.00 C439.30,141.73 439.70,143.27 439.00,143.60 C438.30,143.93 435.83,143.68 435.40,143.00 C434.97,142.32 436.13,140.83 436.40,139.50 C436.67,138.17 437.08,136.92 437.00,135.00 C436.92,133.08 436.18,130.50 435.90,128.00 C435.62,125.50 435.40,122.67 435.30,120.00 C435.20,117.33 435.35,114.25 435.30,112.00 C435.25,109.75 435.32,107.75 435.00,106.50 C434.68,105.25 433.70,105.50 433.40,104.50 C433.10,103.50 432.77,101.83 433.20,100.50 C433.63,99.17 435.10,97.83 436.00,96.50 C436.90,95.17 437.73,93.92 438.60,92.50 C439.47,91.08 440.13,89.58 441.20,88.00 C442.27,86.42 443.70,84.42 445.00,83.00 C446.30,81.58 447.33,80.08 449.00,79.50 Z" fill="url(#mouse1)"/>
<path d="M449.00,79.50 C450.67,78.92 453.42,78.92 455.00,79.50 C456.58,80.08 457.33,81.33 458.50,83.00 C459.67,84.67 461.08,87.50 462.00,89.50 C462.92,91.50 463.25,93.75 464.00,95.00 C464.75,96.25 465.67,96.00 466.50,97.00 C467.33,98.00 468.72,99.67 469.00,101.00 C469.28,102.33 468.87,104.08 468.20,105.00 C467.53,105.92 465.77,105.67 465.00,106.50 C464.23,107.33 464.00,107.75 463.60,110.00 C463.20,112.25 462.93,117.00 462.60,120.00 C462.27,123.00 461.87,125.67 461.60,128.00 C461.33,130.33 461.20,132.33 461.00,134.00 C460.80,135.67 460.30,136.75 460.40,138.00 C460.50,139.25 461.67,140.60 461.60,141.50 C461.53,142.40 460.67,143.22 460.00,143.40 C459.33,143.58 458.10,143.13 457.60,142.60 C457.10,142.07 457.33,140.93 457.00,140.20 C456.67,139.47 456.77,138.67 455.60,138.20 C454.43,137.73 451.97,137.43 450.00,137.40 C448.03,137.37 445.33,137.70 443.80,138.00 C442.27,138.30 441.50,138.70 440.80,139.20 C440.10,139.70 439.90,140.27 439.60,141.00 C439.30,141.73 439.70,143.27 439.00,143.60 C438.30,143.93 435.83,143.68 435.40,143.00 C434.97,142.32 436.13,140.83 436.40,139.50 C436.67,138.17 437.08,136.92 437.00,135.00 C436.92,133.08 436.18,130.50 435.90,128.00 C435.62,125.50 435.40,122.67 435.30,120.00 C435.20,117.33 435.35,114.25 435.30,112.00 C435.25,109.75 435.32,107.75 435.00,106.50 C434.68,105.25 433.70,105.50 433.40,104.50 C433.10,103.50 432.77,101.83 433.20,100.50 C433.63,99.17 435.10,97.83 436.00,96.50 C436.90,95.17 437.73,93.92 438.60,92.50 C439.47,91.08 440.13,89.58 441.20,88.00 C442.27,86.42 443.70,84.42 445.00,83.00 C446.30,81.58 447.33,80.08 449.00,79.50 Z" fill="#7a7a7a" filter="url(#fur)"/>
<clipPath id="mc1"><path d="M449.00,79.50 C450.67,78.92 453.42,78.92 455.00,79.50 C456.58,80.08 457.33,81.33 458.50,83.00 C459.67,84.67 461.08,87.50 462.00,89.50 C462.92,91.50 463.25,93.75 464.00,95.00 C464.75,96.25 465.67,96.00 466.50,97.00 C467.33,98.00 468.72,99.67 469.00,101.00 C469.28,102.33 468.87,104.08 468.20,105.00 C467.53,105.92 465.77,105.67 465.00,106.50 C464.23,107.33 464.00,107.75 463.60,110.00 C463.20,112.25 462.93,117.00 462.60,120.00 C462.27,123.00 461.87,125.67 461.60,128.00 C461.33,130.33 461.20,132.33 461.00,134.00 C460.80,135.67 460.30,136.75 460.40,138.00 C460.50,139.25 461.67,140.60 461.60,141.50 C461.53,142.40 460.67,143.22 460.00,143.40 C459.33,143.58 458.10,143.13 457.60,142.60 C457.10,142.07 457.33,140.93 457.00,140.20 C456.67,139.47 456.77,138.67 455.60,138.20 C454.43,137.73 451.97,137.43 450.00,137.40 C448.03,137.37 445.33,137.70 443.80,138.00 C442.27,138.30 441.50,138.70 440.80,139.20 C440.10,139.70 439.90,140.27 439.60,141.00 C439.30,141.73 439.70,143.27 439.00,143.60 C438.30,143.93 435.83,143.68 435.40,143.00 C434.97,142.32 436.13,140.83 436.40,139.50 C436.67,138.17 437.08,136.92 437.00,135.00 C436.92,133.08 436.18,130.50 435.90,128.00 C435.62,125.50 435.40,122.67 435.30,120.00 C435.20,117.33 435.35,114.25 435.30,112.00 C435.25,109.75 435.32,107.75 435.00,106.50 C434.68,105.25 433.70,105.50 433.40,104.50 C433.10,103.50 432.77,101.83 433.20,100.50 C433.63,99.17 435.10,97.83 436.00,96.50 C436.90,95.17 437.73,93.92 438.60,92.50 C439.47,91.08 440.13,89.58 441.20,88.00 C442.27,86.42 443.70,84.42 445.00,83.00 C446.30,81.58 447.33,80.08 449.00,79.50 Z"/></clipPath>
<path d="M449.00,79.50 C450.67,78.92 453.42,78.92 455.00,79.50 C456.58,80.08 457.33,81.33 458.50,83.00 C459.67,84.67 461.08,87.50 462.00,89.50 C462.92,91.50 463.25,93.75 464.00,95.00 C464.75,96.25 465.67,96.00 466.50,97.00 C467.33,98.00 468.72,99.67 469.00,101.00 C469.28,102.33 468.87,104.08 468.20,105.00 C467.53,105.92 465.77,105.67 465.00,106.50 C464.23,107.33 464.00,107.75 463.60,110.00 C463.20,112.25 462.93,117.00 462.60,120.00 C462.27,123.00 461.87,125.67 461.60,128.00 C461.33,130.33 461.20,132.33 461.00,134.00 C460.80,135.67 460.30,136.75 460.40,138.00 C460.50,139.25 461.67,140.60 461.60,141.50 C461.53,142.40 460.67,143.22 460.00,143.40 C459.33,143.58 458.10,143.13 457.60,142.60 C457.10,142.07 457.33,140.93 457.00,140.20 C456.67,139.47 456.77,138.67 455.60,138.20 C454.43,137.73 451.97,137.43 450.00,137.40 C448.03,137.37 445.33,137.70 443.80,138.00 C442.27,138.30 441.50,138.70 440.80,139.20 C440.10,139.70 439.90,140.27 439.60,141.00 C439.30,141.73 439.70,143.27 439.00,143.60 C438.30,143.93 435.83,143.68 435.40,143.00 C434.97,142.32 436.13,140.83 436.40,139.50 C436.67,138.17 437.08,136.92 437.00,135.00 C436.92,133.08 436.18,130.50 435.90,128.00 C435.62,125.50 435.40,122.67 435.30,120.00 C435.20,117.33 435.35,114.25 435.30,112.00 C435.25,109.75 435.32,107.75 435.00,106.50 C434.68,105.25 433.70,105.50 433.40,104.50 C433.10,103.50 432.77,101.83 433.20,100.50 C433.63,99.17 435.10,97.83 436.00,96.50 C436.90,95.17 437.73,93.92 438.60,92.50 C439.47,91.08 440.13,89.58 441.20,88.00 C442.27,86.42 443.70,84.42 445.00,83.00 C446.30,81.58 447.33,80.08 449.00,79.50 Z" fill="none" stroke="#5a5a5a" stroke-width="3" clip-path="url(#mc1)" opacity="0.75" filter="url(#blur05)"/>
<path d="M433.6,103 C431.6,107.6 429.6,111.6 427.4,115.6 L430.4,116.8 C432.4,112.8 434.6,109 436.8,105.4 Z" fill="#c2c2c2"/>
<path d="M437.6,97.6 C435,101 432.8,106 430.4,110.4 C429.2,112.6 428.2,114.4 427.2,116" fill="none" stroke="#3a3a3a" stroke-width="0.8"/>
<path d="M424.6,114.6 C426.6,113.2 429.8,113.4 431.6,115.6 C431.4,118.4 429.2,120.2 426.8,119.8 C425.2,118.8 424.4,116.8 424.6,114.6 Z" fill="#d0d0d0"/>
<path d="M425.6,117 L423,119.6 M427,119 L425.8,122 M429.4,119.4 L430,122.2" stroke="#cfcfcf" stroke-width="0.8"/>
<path d="M467.8,103 C470.6,106.6 473.4,110.4 476.4,114 L474,116 C471.2,112.6 468.4,109 465.6,105.6 Z" fill="#c2c2c2"/>
<path d="M462.6,93.6 C466,97 469,100.6 471.6,104.4 C473.6,107.4 475.6,110.6 477.2,113.2" fill="none" stroke="#3a3a3a" stroke-width="0.8"/>
<path d="M473.4,113.6 C475.8,112.4 479,113.2 480.6,115.4 C480,118 477.6,119.4 475.2,118.8 C473.8,117.6 473.2,115.6 473.4,113.6 Z" fill="#d0d0d0"/>
<path d="M479.4,114.4 L482.6,113.2 M480,116.8 L483.2,117.8 M477.6,118.8 L479.4,121.6" stroke="#cfcfcf" stroke-width="0.8"/>
<path d="M463.4,96 C466.6,97 469.4,99.6 469.6,102.8 C469.4,105.8 466.6,107.2 463.8,106.2 Z" fill="url(#thigh)"/>
<path d="M437.4,96.4 C434.8,97.6 432.8,99.8 432.8,102.4 C433,105 434.6,106.8 437,107.4 Z" fill="url(#thigh)"/>
<path d="M449.2,79.5 L455,79.5 C456.2,85 455.6,93 454,99 C452.8,102 450.6,101.5 449.8,98 C448.6,92 448.4,85 449.2,79.5 Z" fill="#9c9c9c" filter="url(#blur1)"/>
<path d="M439.2,137.6 C438.8,139.6 438.2,141.4 437.6,143" fill="none" stroke="#a0a0a0" stroke-width="1.8" filter="url(#blur05)"/>
<path d="M457.6,137 C458.2,139 459,140.8 459.6,142.2" fill="none" stroke="#a0a0a0" stroke-width="1.8" filter="url(#blur05)"/>
<ellipse cx="448.5" cy="133" rx="8" ry="4" fill="#5a5a5a" opacity="0.6" filter="url(#blur1)"/>
<ellipse cx="437.4" cy="143.4" rx="2.6" ry="1.6" fill="#dadada"/>
<ellipse cx="459.6" cy="142.4" rx="2.6" ry="1.6" fill="#d6d6d6"/>
</g></g>
<g clip-path="url(#cp2)"><g filter="url(#soft)">
<path d="M537,126 C544,128 550,132 554,134 L554,154 C548,151 543,150 538,149 Z" fill="#9c9c9c" opacity="0.7" filter="url(#blur2)"/>
<path d="M536,8 L553,8 L553,32 C547,30 541,31 536,32 Z" fill="#a0a0a0" filter="url(#blur1)"/>
<path d="M514.8,8 L553,8 L553,10.5 C551.5,13 550,15 548.6,16.6 C544.5,21.5 540,26.5 535.5,30.6 C531.5,33.8 526.5,35.4 521.2,35 C516.4,34.4 512.8,31 511.9,26.2 C511.4,20.5 512.6,14.2 514.8,8 Z" fill="url(#glove)"/>
<path d="M511.2,28.5 C509.8,35 510.4,42.5 513.4,46.4 C516.6,48.6 521,47 522.6,42.6 C523.6,37.5 522.6,32.6 520,30.4 C517,29 513.8,28.2 511.2,28.5 Z" fill="url(#fing)"/>
<path d="M537,31 C536.6,27.4 541,25.2 547,25.2 L553,25.6 L553,39.8 L545.5,40 C540.5,39.4 537.4,35.6 537,31 Z" fill="url(#fing)"/>
<path d="M511.8,18.6 C513,17.2 514.4,17.3 515.4,18.4" fill="none" stroke="#8a8a8a" stroke-width="0.9"/>
<path d="M519,34.5 C522,36.5 526,37.5 529,36.5 C528,35 526,34.6 524,34.8 Z" fill="#8a8a8a" filter="url(#blur05)"/>
<path d="M524.5,33 C525,47 525.4,60 525.2,76 L529.2,76 C528.6,60 528.2,47 528.1,33 Z" fill="#c4c4c4"/>
<path d="M525.8,33 C526.2,47 526.4,60 526.4,76 L527.6,76 C527.5,60 527.2,47 527,33 Z" fill="#d6d6d6"/>
<path d="M524.20,73.00 C525.57,72.47 527.33,72.40 528.60,73.00 C529.87,73.60 530.67,75.00 531.80,76.60 C532.93,78.20 534.30,80.37 535.40,82.60 C536.50,84.83 537.57,87.27 538.40,90.00 C539.23,92.73 540.10,95.50 540.40,99.00 C540.70,102.50 540.47,107.33 540.20,111.00 C539.93,114.67 539.23,118.17 538.80,121.00 C538.37,123.83 537.93,125.58 537.60,128.00 C537.27,130.42 537.03,133.50 536.80,135.50 C536.57,137.50 536.13,138.67 536.20,140.00 C536.27,141.33 536.80,142.43 537.20,143.50 C537.60,144.57 538.93,145.85 538.60,146.40 C538.27,146.95 536.03,147.53 535.20,146.80 C534.37,146.07 534.03,143.27 533.60,142.00 C533.17,140.73 533.87,139.77 532.60,139.20 C531.33,138.63 528.60,138.63 526.00,138.60 C523.40,138.57 519.60,138.83 517.00,139.00 C514.40,139.17 511.93,139.20 510.40,139.60 C508.87,140.00 508.60,140.50 507.80,141.40 C507.00,142.30 506.17,143.97 505.60,145.00 C505.03,146.03 505.23,147.33 504.40,147.60 C503.57,147.87 500.87,147.53 500.60,146.60 C500.33,145.67 502.13,143.68 502.80,142.00 C503.47,140.32 504.13,138.83 504.60,136.50 C505.07,134.17 505.37,131.08 505.60,128.00 C505.83,124.92 505.83,121.33 506.00,118.00 C506.17,114.67 506.37,111.08 506.60,108.00 C506.83,104.92 506.93,102.23 507.40,99.50 C507.87,96.77 508.57,93.85 509.40,91.60 C510.23,89.35 511.27,87.83 512.40,86.00 C513.53,84.17 514.87,82.23 516.20,80.60 C517.53,78.97 519.07,77.47 520.40,76.20 C521.73,74.93 522.83,73.53 524.20,73.00 Z" fill="url(#mouse2)"/>
<path d="M524.20,73.00 C525.57,72.47 527.33,72.40 528.60,73.00 C529.87,73.60 530.67,75.00 531.80,76.60 C532.93,78.20 534.30,80.37 535.40,82.60 C536.50,84.83 537.57,87.27 538.40,90.00 C539.23,92.73 540.10,95.50 540.40,99.00 C540.70,102.50 540.47,107.33 540.20,111.00 C539.93,114.67 539.23,118.17 538.80,121.00 C538.37,123.83 537.93,125.58 537.60,128.00 C537.27,130.42 537.03,133.50 536.80,135.50 C536.57,137.50 536.13,138.67 536.20,140.00 C536.27,141.33 536.80,142.43 537.20,143.50 C537.60,144.57 538.93,145.85 538.60,146.40 C538.27,146.95 536.03,147.53 535.20,146.80 C534.37,146.07 534.03,143.27 533.60,142.00 C533.17,140.73 533.87,139.77 532.60,139.20 C531.33,138.63 528.60,138.63 526.00,138.60 C523.40,138.57 519.60,138.83 517.00,139.00 C514.40,139.17 511.93,139.20 510.40,139.60 C508.87,140.00 508.60,140.50 507.80,141.40 C507.00,142.30 506.17,143.97 505.60,145.00 C505.03,146.03 505.23,147.33 504.40,147.60 C503.57,147.87 500.87,147.53 500.60,146.60 C500.33,145.67 502.13,143.68 502.80,142.00 C503.47,140.32 504.13,138.83 504.60,136.50 C505.07,134.17 505.37,131.08 505.60,128.00 C505.83,124.92 505.83,121.33 506.00,118.00 C506.17,114.67 506.37,111.08 506.60,108.00 C506.83,104.92 506.93,102.23 507.40,99.50 C507.87,96.77 508.57,93.85 509.40,91.60 C510.23,89.35 511.27,87.83 512.40,86.00 C513.53,84.17 514.87,82.23 516.20,80.60 C517.53,78.97 519.07,77.47 520.40,76.20 C521.73,74.93 522.83,73.53 524.20,73.00 Z" fill="#7a7a7a" filter="url(#fur)"/>
<clipPath id="mc2"><path d="M524.20,73.00 C525.57,72.47 527.33,72.40 528.60,73.00 C529.87,73.60 530.67,75.00 531.80,76.60 C532.93,78.20 534.30,80.37 535.40,82.60 C536.50,84.83 537.57,87.27 538.40,90.00 C539.23,92.73 540.10,95.50 540.40,99.00 C540.70,102.50 540.47,107.33 540.20,111.00 C539.93,114.67 539.23,118.17 538.80,121.00 C538.37,123.83 537.93,125.58 537.60,128.00 C537.27,130.42 537.03,133.50 536.80,135.50 C536.57,137.50 536.13,138.67 536.20,140.00 C536.27,141.33 536.80,142.43 537.20,143.50 C537.60,144.57 538.93,145.85 538.60,146.40 C538.27,146.95 536.03,147.53 535.20,146.80 C534.37,146.07 534.03,143.27 533.60,142.00 C533.17,140.73 533.87,139.77 532.60,139.20 C531.33,138.63 528.60,138.63 526.00,138.60 C523.40,138.57 519.60,138.83 517.00,139.00 C514.40,139.17 511.93,139.20 510.40,139.60 C508.87,140.00 508.60,140.50 507.80,141.40 C507.00,142.30 506.17,143.97 505.60,145.00 C505.03,146.03 505.23,147.33 504.40,147.60 C503.57,147.87 500.87,147.53 500.60,146.60 C500.33,145.67 502.13,143.68 502.80,142.00 C503.47,140.32 504.13,138.83 504.60,136.50 C505.07,134.17 505.37,131.08 505.60,128.00 C505.83,124.92 505.83,121.33 506.00,118.00 C506.17,114.67 506.37,111.08 506.60,108.00 C506.83,104.92 506.93,102.23 507.40,99.50 C507.87,96.77 508.57,93.85 509.40,91.60 C510.23,89.35 511.27,87.83 512.40,86.00 C513.53,84.17 514.87,82.23 516.20,80.60 C517.53,78.97 519.07,77.47 520.40,76.20 C521.73,74.93 522.83,73.53 524.20,73.00 Z"/></clipPath>
<path d="M524.20,73.00 C525.57,72.47 527.33,72.40 528.60,73.00 C529.87,73.60 530.67,75.00 531.80,76.60 C532.93,78.20 534.30,80.37 535.40,82.60 C536.50,84.83 537.57,87.27 538.40,90.00 C539.23,92.73 540.10,95.50 540.40,99.00 C540.70,102.50 540.47,107.33 540.20,111.00 C539.93,114.67 539.23,118.17 538.80,121.00 C538.37,123.83 537.93,125.58 537.60,128.00 C537.27,130.42 537.03,133.50 536.80,135.50 C536.57,137.50 536.13,138.67 536.20,140.00 C536.27,141.33 536.80,142.43 537.20,143.50 C537.60,144.57 538.93,145.85 538.60,146.40 C538.27,146.95 536.03,147.53 535.20,146.80 C534.37,146.07 534.03,143.27 533.60,142.00 C533.17,140.73 533.87,139.77 532.60,139.20 C531.33,138.63 528.60,138.63 526.00,138.60 C523.40,138.57 519.60,138.83 517.00,139.00 C514.40,139.17 511.93,139.20 510.40,139.60 C508.87,140.00 508.60,140.50 507.80,141.40 C507.00,142.30 506.17,143.97 505.60,145.00 C505.03,146.03 505.23,147.33 504.40,147.60 C503.57,147.87 500.87,147.53 500.60,146.60 C500.33,145.67 502.13,143.68 502.80,142.00 C503.47,140.32 504.13,138.83 504.60,136.50 C505.07,134.17 505.37,131.08 505.60,128.00 C505.83,124.92 505.83,121.33 506.00,118.00 C506.17,114.67 506.37,111.08 506.60,108.00 C506.83,104.92 506.93,102.23 507.40,99.50 C507.87,96.77 508.57,93.85 509.40,91.60 C510.23,89.35 511.27,87.83 512.40,86.00 C513.53,84.17 514.87,82.23 516.20,80.60 C517.53,78.97 519.07,77.47 520.40,76.20 C521.73,74.93 522.83,73.53 524.20,73.00 Z" fill="none" stroke="#5a5a5a" stroke-width="3" clip-path="url(#mc2)" opacity="0.75" filter="url(#blur05)"/>
<path d="M524.4,71 L528.6,71 C530.8,76 532.6,82 532.6,88 C532.4,94 529.8,98 526.6,98.4 C523.4,98 520.8,94 520.6,88 C520.8,82 522.4,76 524.4,71 Z" fill="url(#vlight)" filter="url(#blur1)"/>
<path d="M516.5,96 C518.5,99 519,104 518,110 L522,111 C524.5,106 526,101 526,96 Z" fill="#1a1a1a" opacity="0.7" filter="url(#blur05)"/>
<path d="M522.6,95.4 C524.6,95 526,96.4 525.6,98.6 C524.8,101.4 523.4,103.6 522.6,106 C523.6,107 524,108.6 523,109.6 C521.4,110.2 519.4,109.6 518.6,108.2 C518.8,106.4 519.8,105 520.6,103.6 C521.2,101 521.4,97.6 522.6,95.4 Z" fill="#c6c6c6"/>
<path d="M529.6,97.8 C531.6,97.4 533.2,98.8 532.8,101 C532.2,103.8 531.2,106.4 530.8,108.4 C532,109.4 532.8,110.8 531.8,112 C530,112.4 527.8,111.8 527,110.2 C527.4,108.6 528.4,107.2 529,105.6 C529.2,103 528.6,100 529.6,97.8 Z" fill="#c2c2c2"/>
<path d="M506.4,140 C505,142.4 503.6,144.6 502.4,146.4" fill="none" stroke="#b0b0b0" stroke-width="1.8" filter="url(#blur05)"/>
<path d="M534.4,139.4 C535.4,141.8 536.4,144 537.4,146" fill="none" stroke="#b0b0b0" stroke-width="1.8" filter="url(#blur05)"/>
<ellipse cx="502.4" cy="146.6" rx="2.6" ry="1.7" fill="#dadada"/>
<ellipse cx="537.6" cy="146.2" rx="2.7" ry="1.7" fill="#dadada"/>
</g></g>
<text x="413.3" y="164.1" class="tb" font-size="9.3" text-anchor="end">+/y male</text>
<text x="483.5" y="164.4" class="tb" font-size="9" text-anchor="end">–/y male</text>
<text x="548.2" y="164.1" class="tb" font-size="9.1" text-anchor="end">–/y male</text>
<rect x="52.4" y="240.1" width="113.4" height="145.5" fill="#c9789b"/>
<rect x="52.4" y="240.1" width="113.4" height="145.5" fill="#fff" filter="url(#lt0)"/>
<rect x="52.4" y="240.1" width="113.4" height="145.5" fill="#8a6aa8" filter="url(#spk0)" opacity="0.6"/>
<polyline points="52.4,264.1 66,266.9 100,261.0 130,257.0 165.8,254.1" fill="none" stroke="#c97a9c" stroke-width="8" opacity="0.5"/>
<polygon points="52.4,240.1 165.8,240.1 165.8,249.6 130,252.5 100,256.5 66,262.4 52.4,259.6" fill="#dca8ad"/>
<polyline points="52.4,259.90000000000003 66,262.7 100,256.8 130,252.8 165.8,249.9" fill="none" stroke="#b86a8c" stroke-width="0.8" opacity="0.7"/>
<rect x="171.1" y="240.1" width="113.2" height="145.5" fill="#c9789b"/>
<rect x="171.1" y="240.1" width="113.2" height="145.5" fill="#fff" filter="url(#lt1)"/>
<rect x="171.1" y="240.1" width="113.2" height="145.5" fill="#8a6aa8" filter="url(#spk1)" opacity="0.6"/>
<polyline points="171.1,260.1 200,258.0 223.5,255.5 250,252.0 284.3,249.3" fill="none" stroke="#c97a9c" stroke-width="8" opacity="0.5"/>
<polygon points="171.1,240.1 284.3,240.1 284.3,244.8 250,247.5 223.5,251 200,253.5 171.1,255.6" fill="#dca8ad"/>
<polyline points="171.1,255.9 200,253.8 223.5,251.3 250,247.8 284.3,245.10000000000002" fill="none" stroke="#b86a8c" stroke-width="0.8" opacity="0.7"/>
<path d="M133,359 C135,357.5 138,356 141,355.2" fill="none" stroke="#e6b2c8" stroke-width="1.1" opacity="0.9"/>
<path d="M90.6,348.6 C92,347 93.6,345.8 95.4,345" fill="none" stroke="#e6b2c8" stroke-width="1.1" opacity="0.9"/>
<path d="M101,303 C102,301.6 103.6,300.6 105,300.2" fill="none" stroke="#e6b2c8" stroke-width="1.1" opacity="0.9"/>
<path d="M118,318 C119,316 120.6,314.6 122.4,314" fill="none" stroke="#e6b2c8" stroke-width="1.1" opacity="0.9"/>
<path d="M150,324 C151,322.5 152.4,321.6 154,321" fill="none" stroke="#e6b2c8" stroke-width="1.1" opacity="0.9"/>
<path d="M70,300 C71.5,299 73,298.6 74.6,298.6" fill="none" stroke="#e6b2c8" stroke-width="1.1" opacity="0.9"/>
<path d="M226,330 C227.6,329 229.4,328.6 231,328.6" fill="none" stroke="#e6b2c8" stroke-width="1.1" opacity="0.9"/>
<path d="M250,290 C251,288.6 252.6,287.6 254,287.2" fill="none" stroke="#e6b2c8" stroke-width="1.1" opacity="0.9"/>
<path d="M205,350 C206.6,349 208.2,348.4 210,348.2" fill="none" stroke="#e6b2c8" stroke-width="1.1" opacity="0.9"/>
<path d="M191.6,262.6 C193.4,261.4 195.4,262.4 195.2,265 C195,267.6 194.2,270 192.6,271.4 C191.2,270 190.8,266.4 191.6,262.6 Z" fill="#9a6a96" stroke="#ecc4d4" stroke-width="0.9"/>
<line x1="171.6" y1="240.1" x2="171.6" y2="385.6" stroke="#6e4c72" stroke-width="1"/>
<rect x="58.1" y="376.9" width="23.6" height="2.9" fill="#000"/>
<rect x="176.4" y="376.7" width="23.2" height="2.9" fill="#000"/>
<text x="155.6" y="379.4" class="tb" font-size="9.6" text-anchor="end">KO</text>
<text x="275.2" y="379.4" class="tb" font-size="9.8" text-anchor="end">WT</text>
<line x1="336.4" y1="365.61" x2="549.1" y2="365.61" stroke="#808080" stroke-width="1.35"/>
<line x1="336.4" y1="351.62" x2="549.1" y2="351.62" stroke="#808080" stroke-width="1.35"/>
<line x1="336.4" y1="337.63" x2="549.1" y2="337.63" stroke="#808080" stroke-width="1.35"/>
<line x1="336.4" y1="323.64" x2="549.1" y2="323.64" stroke="#808080" stroke-width="1.35"/>
<line x1="336.4" y1="309.65" x2="549.1" y2="309.65" stroke="#808080" stroke-width="1.35"/>
<line x1="336.4" y1="295.66" x2="549.1" y2="295.66" stroke="#808080" stroke-width="1.35"/>
<line x1="336.4" y1="281.67" x2="549.1" y2="281.67" stroke="#808080" stroke-width="1.35"/>
<line x1="336.4" y1="267.68" x2="549.1" y2="267.68" stroke="#808080" stroke-width="1.35"/>
<line x1="336.4" y1="253.69" x2="549.1" y2="253.69" stroke="#808080" stroke-width="1.35"/>
<line x1="336.4" y1="239.7" x2="549.1" y2="239.7" stroke="#777" stroke-width="0.9"/>
<line x1="349" y1="240.1" x2="549.1" y2="240.1" stroke="#222" stroke-width="1.8"/>
<line x1="549.1" y1="239.7" x2="549.1" y2="379.6" stroke="#777" stroke-width="1.1"/>
<line x1="336.4" y1="239.7" x2="336.4" y2="379.6" stroke="#555" stroke-width="1.1"/>
<line x1="334.5" y1="379.6" x2="549.1" y2="379.6" stroke="#555" stroke-width="1.1"/>
<line x1="334.5" y1="379.60" x2="336.4" y2="379.60" stroke="#555" stroke-width="0.9"/>
<text transform="translate(333.79999999999995,382.60) scale(0.92,1)" class="tb" font-size="8.6" text-anchor="end">0</text>
<line x1="334.5" y1="365.61" x2="336.4" y2="365.61" stroke="#555" stroke-width="0.9"/>
<text transform="translate(333.79999999999995,368.61) scale(0.92,1)" class="tb" font-size="8.6" text-anchor="end">10</text>
<line x1="334.5" y1="351.62" x2="336.4" y2="351.62" stroke="#555" stroke-width="0.9"/>
<text transform="translate(333.79999999999995,354.62) scale(0.92,1)" class="tb" font-size="8.6" text-anchor="end">20</text>
<line x1="334.5" y1="337.63" x2="336.4" y2="337.63" stroke="#555" stroke-width="0.9"/>
<text transform="translate(333.79999999999995,340.63) scale(0.92,1)" class="tb" font-size="8.6" text-anchor="end">30</text>
<line x1="334.5" y1="323.64" x2="336.4" y2="323.64" stroke="#555" stroke-width="0.9"/>
<text transform="translate(333.79999999999995,326.64) scale(0.92,1)" class="tb" font-size="8.6" text-anchor="end">40</text>
<line x1="334.5" y1="309.65" x2="336.4" y2="309.65" stroke="#555" stroke-width="0.9"/>
<text transform="translate(333.79999999999995,312.65) scale(0.92,1)" class="tb" font-size="8.6" text-anchor="end">50</text>
<line x1="334.5" y1="295.66" x2="336.4" y2="295.66" stroke="#555" stroke-width="0.9"/>
<text transform="translate(333.79999999999995,298.66) scale(0.92,1)" class="tb" font-size="8.6" text-anchor="end">60</text>
<line x1="334.5" y1="281.67" x2="336.4" y2="281.67" stroke="#555" stroke-width="0.9"/>
<text transform="translate(333.79999999999995,284.67) scale(0.92,1)" class="tb" font-size="8.6" text-anchor="end">70</text>
<line x1="334.5" y1="267.68" x2="336.4" y2="267.68" stroke="#555" stroke-width="0.9"/>
<text transform="translate(333.79999999999995,270.68) scale(0.92,1)" class="tb" font-size="8.6" text-anchor="end">80</text>
<line x1="334.5" y1="253.69" x2="336.4" y2="253.69" stroke="#555" stroke-width="0.9"/>
<text transform="translate(333.79999999999995,256.69) scale(0.92,1)" class="tb" font-size="8.6" text-anchor="end">90</text>
<line x1="334.5" y1="239.70" x2="336.4" y2="239.70" stroke="#555" stroke-width="0.9"/>
<text transform="translate(333.79999999999995,242.70) scale(0.92,1)" class="tb" font-size="8.6" text-anchor="end">100</text>
<line x1="355.74" y1="379.6" x2="355.74" y2="381.6" stroke="#555" stroke-width="0.9"/>
<line x1="375.07" y1="379.6" x2="375.07" y2="381.6" stroke="#555" stroke-width="0.9"/>
<line x1="394.41" y1="379.6" x2="394.41" y2="381.6" stroke="#555" stroke-width="0.9"/>
<line x1="413.75" y1="379.6" x2="413.75" y2="381.6" stroke="#555" stroke-width="0.9"/>
<line x1="433.08" y1="379.6" x2="433.08" y2="381.6" stroke="#555" stroke-width="0.9"/>
<line x1="452.42" y1="379.6" x2="452.42" y2="381.6" stroke="#555" stroke-width="0.9"/>
<line x1="471.75" y1="379.6" x2="471.75" y2="381.6" stroke="#555" stroke-width="0.9"/>
<line x1="491.09" y1="379.6" x2="491.09" y2="381.6" stroke="#555" stroke-width="0.9"/>
<line x1="510.43" y1="379.6" x2="510.43" y2="381.6" stroke="#555" stroke-width="0.9"/>
<line x1="529.76" y1="379.6" x2="529.76" y2="381.6" stroke="#555" stroke-width="0.9"/>
<line x1="549.10" y1="379.6" x2="549.10" y2="381.6" stroke="#555" stroke-width="0.9"/>
<text x="346.87" y="377.30" class="tr" font-size="6.2" text-anchor="middle">(63)</text>
<text transform="translate(346.97,392.3) scale(0.92,1)" class="tb" font-size="8.6" text-anchor="middle">0</text>
<text x="366.20" y="377.30" class="tr" font-size="6.2" text-anchor="middle">(63)</text>
<text transform="translate(366.30,392.3) scale(0.92,1)" class="tb" font-size="8.6" text-anchor="middle">1</text>
<text x="385.54" y="377.30" class="tr" font-size="6.2" text-anchor="middle">(63)</text>
<text transform="translate(385.64,392.3) scale(0.92,1)" class="tb" font-size="8.6" text-anchor="middle">2</text>
<rect x="398.98" y="377.22" width="10.2" height="2.38" fill="#000"/>
<text x="404.88" y="374.92" class="tr" font-size="6.2" text-anchor="middle">(59)</text>
<text transform="translate(404.98,392.3) scale(0.92,1)" class="tb" font-size="8.6" text-anchor="middle">3</text>
<rect x="418.31" y="366.59" width="10.2" height="13.01" fill="#000"/>
<text x="424.21" y="364.29" class="tr" font-size="6.2" text-anchor="middle">(54)</text>
<text transform="translate(424.31,392.3) scale(0.92,1)" class="tb" font-size="8.6" text-anchor="middle">4</text>
<rect x="437.65" y="352.18" width="10.2" height="27.42" fill="#000"/>
<text x="443.55" y="349.88" class="tr" font-size="6.2" text-anchor="middle">(46)</text>
<text transform="translate(443.65,392.3) scale(0.92,1)" class="tb" font-size="8.6" text-anchor="middle">5</text>
<rect x="456.99" y="324.62" width="10.2" height="54.98" fill="#000"/>
<text x="462.89" y="322.32" class="tr" font-size="6.2" text-anchor="middle">(41)</text>
<text transform="translate(462.99,392.3) scale(0.92,1)" class="tb" font-size="8.6" text-anchor="middle">6</text>
<rect x="476.32" y="329.80" width="10.2" height="49.80" fill="#000"/>
<text x="482.22" y="327.50" class="tr" font-size="6.2" text-anchor="middle">(28)</text>
<text transform="translate(482.32,392.3) scale(0.92,1)" class="tb" font-size="8.6" text-anchor="middle">7</text>
<rect x="495.66" y="334.97" width="10.2" height="44.63" fill="#000"/>
<text x="501.56" y="332.67" class="tr" font-size="6.2" text-anchor="middle">(25)</text>
<text transform="translate(501.66,392.3) scale(0.92,1)" class="tb" font-size="8.6" text-anchor="middle">8</text>
<rect x="515.00" y="325.60" width="10.2" height="54.00" fill="#000"/>
<text x="520.90" y="323.30" class="tr" font-size="6.2" text-anchor="middle">(13)</text>
<text transform="translate(521.00,392.3) scale(0.92,1)" class="tb" font-size="8.6" text-anchor="middle">9</text>
<rect x="534.33" y="281.81" width="10.2" height="97.79" fill="#000"/>
<text x="540.23" y="279.51" class="tr" font-size="6.2" text-anchor="middle">(10)</text>
<text transform="translate(540.33,392.3) scale(0.92,1)" class="tb" font-size="8.6" text-anchor="middle">10</text>
<text transform="translate(316.8,308.4) rotate(-90)" class="tb" font-size="9.1" text-anchor="middle">affected animals (%)</text>
<text x="447.6" y="408.8" class="tb" font-size="9.2" text-anchor="middle">age (months)</text>
</svg>
</body></html>
